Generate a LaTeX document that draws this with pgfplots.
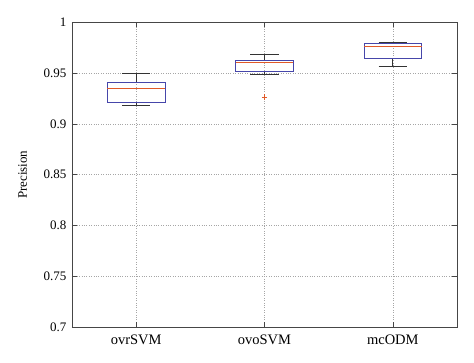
\documentclass[border=0pt]{standalone}
\usepackage{pgfplots}
\pgfplotsset{compat=1.18}
\usepgfplotslibrary{statistics}
\usepackage{fontspec}
\setmainfont{Liberation Serif}
\definecolor{boxblue}{RGB}{70,70,170}
\definecolor{medred}{RGB}{225,90,40}
\definecolor{axgray}{RGB}{70,70,70}
\begin{document}
\begin{tikzpicture}
\begin{axis}[
  scale only axis, width=385pt, height=304.5pt,
  xmin=0.5, xmax=3.5, ymin=0.7, ymax=1,
  xtick={1,2,3}, xticklabels={ovrSVM,ovoSVM,mcODM},
  ytick={0.7,0.75,0.8,0.85,0.9,0.95,1},
  yticklabels={0.7,0.75,0.8,0.85,0.9,0.95,1},
  tick align=inside, tick pos=both,
  major tick length=5pt,
  axis line style={axgray, line width=0.8pt},
  tick style={axgray, line width=0.6pt},
  grid=major, grid style={dotted, gray!70, line width=0.6pt},
  font=\fontsize{13}{15}\selectfont,
  ylabel={Precision},
  ylabel style={at={(axis description cs:-0.128,0.5)}, anchor=center},
  yticklabel style={xshift=-2pt},
  xticklabel style={yshift=-4pt, font=\fontsize{14.5}{16}\selectfont},
  boxplot/draw direction=y,
  boxplot/box extend=0.45,
  boxplot/whisker extend=0.22,
  boxplot/every box/.style={draw=boxblue, line width=0.9pt},
  boxplot/every median/.style={draw=medred, line width=0.9pt},
  boxplot/every whisker/.style={draw=black!80, line width=0.8pt},
]
\addplot[boxplot prepared={draw position=1, lower whisker=0.9184, lower quartile=0.9213, median=0.9355, upper quartile=0.9408, upper whisker=0.9497}] coordinates {};
\addplot[boxplot prepared={draw position=2, lower whisker=0.9490, lower quartile=0.9516, median=0.9602, upper quartile=0.9628, upper whisker=0.9684}, mark=+, mark options={medred, line width=0.8pt, scale=1.3}] table[row sep=\\, y index=0] {y\\ 0.9266\\};
\addplot[boxplot prepared={draw position=3, lower whisker=0.9566, lower quartile=0.9648, median=0.9763, upper quartile=0.9793, upper whisker=0.9806}] coordinates {};
\end{axis}
\useasboundingbox (-72pt,-36pt) rectangle (402pt,327pt);
\end{tikzpicture}
\end{document}
